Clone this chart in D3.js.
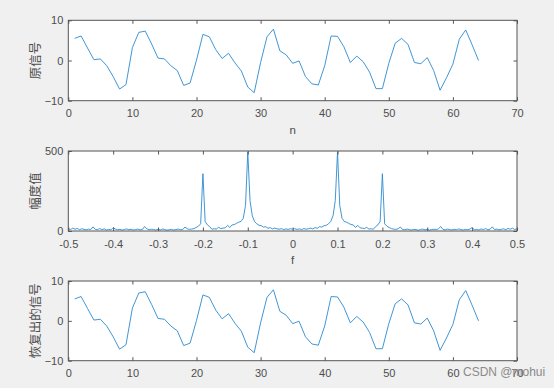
<!DOCTYPE html>
<html>
<head>
<meta charset="utf-8">
<script src="https://cdn.jsdelivr.net/npm/d3@7"></script>
<style>
  body { margin: 0; background: #f0f0f0; }
  svg { display: block; }
</style>
</head>
<body>
<div id="chart"></div>
<script>
// original signal, n = 1..64
var signal = [
  5.5, 6.1, 3.1, 0.2, 0.4, -1.3, -4.0, -7.1, -6.0, 3.2,
  7.0, 7.3, 4.1, 0.6, 0.4, -1.3, -2.5, -6.2, -5.6, 0.1,
  6.5, 5.9, 2.7, 0.5, 1.8, -0.6, -2.6, -6.6, -8.0, -0.5,
  5.9, 7.8, 2.4, 1.4, -0.7, -0.1, -4.0, -5.8, -6.1, -1.3,
  6.1, 6.0, 3.4, -0.5, 1.1, -0.3, -2.9, -7.0, -7.0, -0.7,
  4.3, 5.5, 4.0, -0.5, -0.8, 0.7, -2.5, -7.4, -4.3, -0.9,
  5.3, 7.6, 3.9, 0.0
];
// recovered signal (looks the same as the original)
var recovered = signal.slice();

// amplitude spectrum, f = -0.5 .. 0.5 in steps of 0.005
var spectrum = [
  14, 9, 18, 11, 16, 8, 14, 10, 7, 12,
  9, 26, 11, 8, 15, 9, 13, 6, 10, 7,
  21, 12, 8, 10, 6, 9, 13, 8, 11, 6,
  9, 12, 7, 10, 28, 14, 8, 11, 9, 6,
  10, 7, 12, 9, 5, 8, 10, 6, 9, 12,
  8, 9, 25, 14, 10, 12, 15, 22, 30, 45,
  358, 60, 38, 28, 11, 14, 12, 23, 15, 18,
  20, 35, 22, 38, 40, 48, 55, 60, 80, 160,
  495, 190, 95, 60, 45, 36, 33, 24, 27, 17,
  21, 13, 18, 14, 11, 15, 9, 13, 10, 14,
  12,
  14, 10, 13, 9, 15, 11, 14, 18, 13, 21,
  17, 27, 24, 33, 36, 45, 60, 95, 190, 495,
  160, 80, 60, 55, 48, 40, 38, 22, 35, 20,
  18, 15, 23, 12, 14, 11, 28, 38, 60, 358,
  45, 30, 22, 15, 12, 10, 14, 25, 9, 8,
  12, 9, 6, 10, 8, 5, 9, 12, 7, 10,
  6, 9, 11, 8, 14, 28, 10, 7, 12, 9,
  6, 11, 8, 13, 9, 6, 10, 8, 12, 21,
  7, 10, 6, 13, 9, 15, 8, 11, 26, 9,
  12, 7, 10, 14, 8, 16, 11, 18, 9, 14
];
var fStep = 0.005;

var nTicks = [0, 10, 20, 30, 40, 50, 60, 70];
var sigTicks = [-10, 0, 10];
var fTicks = [-0.5, -0.4, -0.3, -0.2, -0.1, 0, 0.1, 0.2, 0.3, 0.4, 0.5];
var ampTicks = [0, 500];

var W = 554, H = 388;
var left = 68.3, right = 517;

var svg = d3.select("#chart")
  .append("svg")
    .attr("width", W)
    .attr("height", H);

var lineColor = "#2b8ad0";
var axisColor = "#555555";
var textColor = "#4d4d4d";

function drawPanel(top, bottom, x, y, xTicks, yTicks, xFmt, yLabel, xLabel, pts) {
  var g = svg.append("g");

  g.append("rect")
    .attr("x", left)
    .attr("y", top)
    .attr("width", right - left)
    .attr("height", bottom - top)
    .style("fill", "#ffffff");

  // line
  var line = d3.line()
    .x(function(d) { return x(d[0]); })
    .y(function(d) { return y(d[1]); });
  g.append("path")
    .datum(pts)
    .attr("d", line)
    .style("fill", "none")
    .style("stroke", lineColor)
    .style("stroke-width", 0.9)
    .style("stroke-linejoin", "round");

  // bottom axis
  var ax = g.append("g")
    .attr("transform", "translate(0," + bottom + ")")
    .call(d3.axisBottom(x).tickValues(xTicks).tickFormat(xFmt)
      .tickSizeInner(-3.5).tickSizeOuter(0).tickPadding(9));
  // top axis (ticks only)
  var axt = g.append("g")
    .attr("transform", "translate(0," + top + ")")
    .call(d3.axisTop(x).tickValues(xTicks).tickFormat("")
      .tickSizeInner(-3.5).tickSizeOuter(0));
  // left axis
  var ay = g.append("g")
    .attr("transform", "translate(" + left + ",0)")
    .call(d3.axisLeft(y).tickValues(yTicks)
      .tickSizeInner(-3.5).tickSizeOuter(0).tickPadding(5));
  // right axis (ticks only)
  var ayr = g.append("g")
    .attr("transform", "translate(" + right + ",0)")
    .call(d3.axisRight(y).tickValues(yTicks).tickFormat("")
      .tickSizeInner(-3.5).tickSizeOuter(0));

  [ax, axt, ay, ayr].forEach(function(a) {
    a.select(".domain").remove();
    a.selectAll("line").style("stroke", axisColor);
    a.selectAll("text")
      .style("fill", textColor)
      .style("font-family", "'Liberation Sans', Arial, sans-serif")
      .style("font-size", "11px");
  });

  // box
  g.append("rect")
    .attr("x", left)
    .attr("y", top)
    .attr("width", right - left)
    .attr("height", bottom - top)
    .style("fill", "none")
    .style("stroke", axisColor)
    .style("stroke-width", 1);

  // y label
  g.append("text")
    .attr("transform", "translate(" + 40 + "," + ((top + bottom) / 2) + ") rotate(-90)")
    .attr("text-anchor", "middle")
    .style("font-family", "'Noto Sans CJK SC', sans-serif")
    .style("font-size", "12.5px")
    .style("fill", textColor)
    .text(yLabel);

  // x label
  if (xLabel) {
    g.append("text")
      .attr("x", (left + right) / 2)
      .attr("y", bottom + 33)
      .attr("text-anchor", "middle")
      .style("font-family", "'Liberation Sans', Arial, sans-serif")
      .style("font-size", "11.5px")
      .style("fill", textColor)
      .text(xLabel);
  }
}

var xN = d3.scaleLinear().domain([0, 70]).range([left, right]);
var xF = d3.scaleLinear().domain([-0.5, 0.5]).range([left, right]);

// panel 1: original signal
var y1 = d3.scaleLinear().domain([-10, 10]).range([100.7, 20.3]);
drawPanel(20.3, 100.7, xN, y1, nTicks, sigTicks, d3.format("d"), "原信号", "n",
  signal.map(function(v, i) { return [i + 1, v]; }));

// panel 2: amplitude spectrum
var y2 = d3.scaleLinear().domain([0, 500]).range([231, 151]);
drawPanel(151, 231, xF, y2, fTicks, ampTicks, function(d) { return d === 0 ? "0" : d3.format(".1f")(d).replace("−", "-"); }, "幅度值", "f",
  spectrum.map(function(v, i) { return [-0.5 + i * fStep, v]; }));

// panel 3: recovered signal
var y3 = d3.scaleLinear().domain([-10, 10]).range([360.7, 281]);
drawPanel(281, 360.7, xN, y3, nTicks, sigTicks, d3.format("d"), "恢复出的信号", "n",
  recovered.map(function(v, i) { return [i + 1, v]; }));

// watermark
svg.append("text")
  .attr("x", 463)
  .attr("y", 376)
  .attr("text-anchor", "start")
  .style("font-family", "'Liberation Sans', Arial, sans-serif")
  .style("font-size", "12px")
  .style("fill", "#8a8a8a")
  .text("CSDN @mohui");
</script>
</body>
</html>
